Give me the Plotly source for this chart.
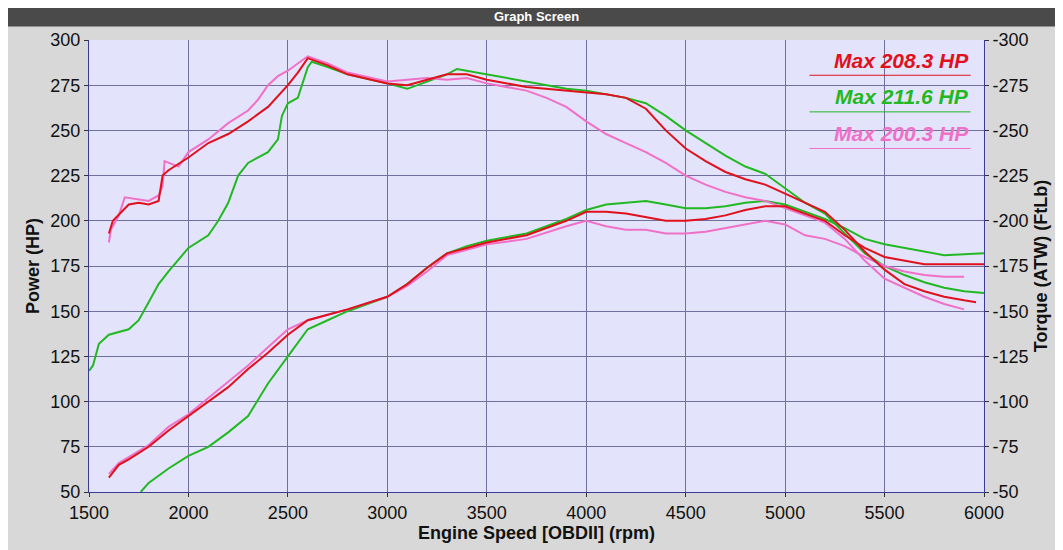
import plotly.graph_objects as go

red_tq_x = [1600,1620,1700,1750,1800,1850,1870,1900,2000,2100,2200,2300,2400,2500,2550,2600,2700,2800,3000,3100,3200,3300,3400,3500,3700,3900,4000,4100,4200,4300,4400,4500,4600,4700,4800,4900,5000,5100,5200,5300,5400,5500,5600,5700,5800,5900,5960]
red_tq_y = [193,200,209,210,209,211,225,228,235,243,248,255,263,275,282,290,286,281,276,275,278,281,281,278,274,272,271,270,268,262,250,240,233,227,223,220,215,210,205,195,183,173,165,161,158,156,155]
grn_tq_x = [1500,1520,1550,1600,1700,1750,1800,1850,1900,2000,2100,2150,2200,2250,2300,2400,2450,2470,2500,2550,2600,2620,2700,2800,3000,3100,3200,3300,3350,3500,3700,3900,4000,4200,4300,4400,4500,4600,4700,4800,4900,5000,5100,5200,5300,5400,5500,5600,5700,5800,5900,6000]
grn_tq_y = [117,120,132,137,140,145,155,165,172,185,192,200,210,225,232,238,245,258,265,268,285,288,285,281,276,273,277,281,284,281,277,273,272,268,265,258,250,243,236,230,226,218,210,204,193,182,175,170,166,163,161,160]
pnk_tq_x = [1600,1610,1650,1680,1800,1850,1870,1880,1950,2000,2100,2200,2300,2350,2400,2450,2500,2550,2600,2700,2800,3000,3200,3300,3400,3500,3700,3800,3900,4000,4100,4200,4300,4400,4500,4600,4700,4800,4900,5000,5100,5200,5300,5400,5500,5600,5700,5800,5900]
pnk_tq_y = [188,195,203,213,211,214,219,233,230,238,245,254,261,267,275,280,283,287,291,287,282,277,279,278,279,276,272,268,263,255,248,243,238,232,225,220,216,213,211,207,203,199,190,178,168,163,158,154,151]

red_hp_x = [1600,1650,1700,1800,1900,2000,2100,2200,2300,2400,2500,2600,2700,2800,3000,3100,3200,3300,3400,3500,3700,3900,4000,4100,4200,4300,4400,4500,4600,4700,4800,4900,5000,5100,5200,5300,5400,5500,5600,5700,5800,6000]
red_hp_y = [58,65,68,75,84,92,100,108,118,127,137,145,148,151,158,165,174,182,185,188,192,200,205,205,204,202,200,200,201,203,206,208,208,204,200,192,185,180,178,176,176,176]
grn_hp_x = [1760,1800,1900,2000,2100,2200,2300,2400,2500,2600,2700,2800,3000,3100,3200,3300,3400,3500,3700,3900,4000,4100,4200,4300,4400,4500,4600,4700,4800,4900,5000,5100,5200,5300,5400,5500,5600,5700,5800,6000]
grn_hp_y = [50,55,63,70,75,83,92,110,125,140,145,150,158,165,174,182,186,189,193,201,206,209,210,211,209,207,207,208,210,211,209,205,201,196,190,187,185,183,181,182]
pnk_hp_x = [1600,1650,1800,1900,2000,2100,2200,2300,2400,2500,2600,2700,2800,3000,3100,3200,3300,3400,3500,3700,3900,4000,4100,4200,4300,4400,4500,4600,4700,4800,4900,5000,5100,5200,5300,5400,5500,5600,5700,5800,5900]
pnk_hp_y = [60,66,76,86,93,102,111,120,130,140,145,148,151,158,164,172,181,184,187,190,197,200,197,195,195,193,193,194,196,198,200,198,192,190,186,180,175,172,170,169,169]

labels = ["Max 208.3 HP", "Max 211.6 HP", "Max 200.3 HP"]
colors = ["#e0101c", "#22b822", "#f070c8"]
yticks = list(range(50, 301, 25))

fig = go.Figure()
series = [(grn_tq_x, grn_tq_y, colors[1]), (grn_hp_x, grn_hp_y, colors[1]),
          (pnk_tq_x, pnk_tq_y, colors[2]), (pnk_hp_x, pnk_hp_y, colors[2]),
          (red_tq_x, red_tq_y, colors[0]), (red_hp_x, red_hp_y, colors[0])]
for x, y, c in series:
    fig.add_trace(go.Scatter(x=x, y=y, mode="lines", line=dict(color=c, width=2)))
fig.add_trace(go.Scatter(x=[1500, 6000], y=[50, 50], yaxis="y2", mode="lines", line=dict(width=0), hoverinfo="skip"))

for i, (t, c) in enumerate(zip(labels, colors)):
    fig.add_annotation(x=0.985, y=0.985 - i*0.081, xref="paper", yref="paper", xanchor="right", yanchor="top",
                       text="<b><i>" + t + "</i></b>", showarrow=False, font=dict(family="Liberation Sans", size=21, color=c))
    fig.add_shape(type="line", xref="paper", yref="paper", x0=0.805, x1=0.985, y0=0.922 - i*0.081, y1=0.922 - i*0.081,
                  line=dict(color=c, width=1))

fig.add_shape(type="rect", xref="paper", yref="paper", x0=-0.1, x1=1.11, y0=1.03, y1=1.1,
              fillcolor="#4a4a4a", line=dict(width=0), layer="below")
fig.add_annotation(x=0.5, y=1.052, xref="paper", yref="paper", text="<b>Graph Screen</b>", showarrow=False,
                   font=dict(family="Liberation Sans", size=13, color="white"), yanchor="middle")

ax = dict(showline=True, linecolor="#3a3a9a", mirror=False, ticks="outside", ticklen=4, tickcolor="#333", automargin=False,
          tickfont=dict(family="Liberation Sans", size=18, color="#111"))
tf = dict(family="Liberation Sans", size=18, color="#111")
fig.update_layout(
    width=1063, height=550, showlegend=False,
    paper_bgcolor="#d8d8d8", plot_bgcolor="#e3e3fb",
    margin=dict(l=81, r=87, t=32, b=66),
    xaxis=dict(range=[1500, 6000], dtick=500, gridcolor="#7070a0", gridwidth=1, zeroline=False,
               title=dict(text="<b>Engine Speed [OBDII] (rpm)</b>", font=tf, standoff=4), **ax),
    yaxis=dict(range=[50, 300], tickvals=yticks, gridcolor="#7070a0", zeroline=False,
               title=dict(text="<b>Power (HP)</b>", font=tf, standoff=6), **ax),
    yaxis2=dict(range=[50, 300], tickvals=yticks, ticktext=["-" + str(v) for v in yticks], overlaying="y", side="right",
                showgrid=False, zeroline=False,
                title=dict(text="<b>Torque (ATW) (FtLb)</b>", font=tf, standoff=6), **ax),
)
fig.write_html("out.html")
